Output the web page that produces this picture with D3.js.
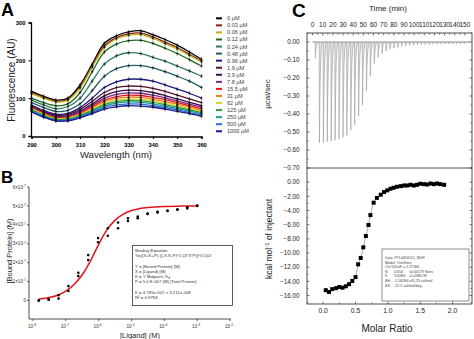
<!DOCTYPE html>
<html><head><meta charset="utf-8">
<script src="https://cdn.jsdelivr.net/npm/d3@7"></script>
<style>body{margin:0;background:#fff} svg{display:block} text{font-family:"Liberation Sans",Arial,sans-serif}</style>
</head><body><svg id="c" width="474" height="339"></svg>
<script>
// ---------- Panel A data ----------
const wavelengths = [290,295,300,305,310,315,320,325,330,335,340,345,350,355,360];
const concLabels = ["0 µM","0.03 µM","0.06 µM","0.12 µM","0.24 µM","0.48 µM","0.96 µM","1.9 µM","3.9 µM","7.8 µM","15.5 µM","31 µM","62 µM","125 µM","250 µM","500 µM","1000 µM"];
const concColors = ["#000000","#8b1a1a","#b5b50a","#1f6b1f","#2e7d5b","#1f5f6b","#1a1a8c","#5a0f2e","#3d0a4d","#7a2a8a","#e8141a","#f07a1a","#d8d82a","#2a9a3a","#1a9a9a","#2a6ad8","#1a1a9a"];
const fl0000 = [118,105,95,100,135,190,245,265,275,278,268,255,240,222,203];
const fl0003 = [115,102,92,97,130,185,238,260,270,272,262,248,234,216,199];
const fl0006 = [112,100,90,95,127,182,234,257,266,268,258,244,230,213,196];
const fl0012 = [100,88,80,85,115,170,222,243,252,253,245,232,218,202,185];
const fl0024 = [95,82,72,78,100,145,190,212,220,218,208,198,185,172,158];
const fl0048 = [88,75,65,68,85,120,158,178,186,186,180,170,158,145,128];
const fl0096 = [82,68,58,60,75,100,128,143,150,150,145,135,124,113,100];
const fl0190 = [80,65,55,57,70,92,115,128,132,131,126,118,108,98,88];
const fl0390 = [78,63,52,54,66,85,106,117,121,120,115,107,98,89,80];
const fl0780 = [76,61,50,52,63,81,100,110,114,113,108,101,93,84,76];
const fl1550 = [75,60,48,50,60,77,95,104,108,107,102,96,88,80,72];
const fl3100 = [73,58,47,48,58,74,91,100,103,102,97,91,84,76,68];
const fl6200 = [72,57,45,47,56,71,87,95,98,97,93,87,80,72,65];
const fl125 = [70,55,44,45,54,68,83,91,94,93,89,83,76,69,62];
const fl250 = [68,53,42,43,52,65,79,87,90,89,85,79,72,66,59];
const fl500 = [66,51,41,42,50,62,75,82,85,84,80,75,69,62,56];
const fl1000 = [64,50,40,40,48,59,71,77,80,79,76,71,65,59,52];
const fluorSeries = [fl0000,fl0003,fl0006,fl0012,fl0024,fl0048,fl0096,fl0190,fl0390,fl0780,fl1550,fl3100,fl6200,fl125,fl250,fl500,fl1000];
const aXTicks = [290,300,310,320,330,340,350,360];
const aYTicks = [0,100,200,300];

// ---------- Panel B data ----------
const ligandConc = [1.5e-8,3e-8,6e-8,1.2e-7,2.4e-7,4.8e-7,9.6e-7,1.9e-6,3.9e-6,7.8e-6,1.55e-5,3.1e-5,6.2e-5,1.25e-4,2.5e-4,5e-4,1e-3];
const boundRep1 = [0.0,0.05,0.28,0.76,1.47,2.40,3.30,3.82,4.12,4.35,4.44,4.60,4.69,4.74,4.81,4.93,5.02]; // x1e-7 M
const boundRep2 = [0.0,0.05,0.10,0.50,1.29,2.14,3.08,3.42,3.82,4.20,4.35,4.57,4.65,4.74,4.81,4.87,5.00];
const fitLogX = [-7.82,-7.5,-7.25,-7.0,-6.75,-6.5,-6.25,-6.0,-5.75,-5.5,-5.25,-5.0,-4.75,-4.5,-4.0,-3.5,-3.0];
const fitBound = [0.08,0.16,0.28,0.50,0.85,1.36,2.10,2.97,3.73,4.25,4.57,4.76,4.86,4.92,4.975,4.99,5.0];
const bXTickExp = [-8,-7,-6,-5,-4,-3,-2];
const bYTicks = [0,1,2,3,4,5,6];
const bBoxLines = ["Binding Equation","Y=((X+K+P)-((-X-K-P)^2-(4*X*P))^0.5)/2","","Y = [Bound Protein] (M)","X = [Ligand] (M)","K = Y Midpoint, K","P = 5.0 E-007 (M) [Total Protein]","","K = 4.785e-007 ± 3.211e-008","R² = 0.9794"];

// ---------- Panel C data ----------
const injTimes = [2.5,6.5,10.4,14.2,18.1,21.9,25.8,29.7,33.5,37.4,41.2,45.1,48.9,52.8,56.6,60.5,64.3,68.2,72.1,75.9,79.8,83.6,87.5,91.3,95.2,99.0,102.9,106.8,110.6,114.5,118.3,122.2,126.0,129.9,133.8,137.6,141.5,145.3,149.2];
const injDepth = [-0.09,-0.56,-0.56,-0.555,-0.55,-0.545,-0.54,-0.53,-0.52,-0.49,-0.46,-0.41,-0.35,-0.27,-0.19,-0.12,-0.085,-0.065,-0.05,-0.04,-0.035,-0.03,-0.026,-0.023,-0.02,-0.018,-0.017,-0.016,-0.015,-0.014,-0.013,-0.012,-0.012,-0.011,-0.011,-0.01,-0.01,-0.01,-0.01];
const molarRatio = [0.04,0.09,0.14,0.20,0.25,0.30,0.35,0.40,0.45,0.50,0.54,0.58,0.62,0.66,0.70,0.73,0.78,0.83,0.89,0.94,0.99,1.04,1.09,1.14,1.20,1.25,1.30,1.35,1.40,1.45,1.50,1.56,1.61,1.66,1.71,1.76,1.81,1.87];
const enthalpy = [-15.25,-15.5,-15.1,-14.97,-14.8,-14.9,-14.7,-14.4,-13.95,-13.4,-11.6,-10.7,-9.2,-7.6,-6.05,-4.65,-2.9,-2.23,-1.77,-1.4,-1.16,-0.93,-0.79,-0.65,-0.56,-0.47,-0.47,-0.37,-0.47,-0.37,-0.23,-0.28,-0.33,-0.19,-0.28,-0.19,-0.28,-0.37];
const timeTicks = [0,10,20,30,40,50,60,70,80,90,100,110,120,130,140,150];
const ucalTicks = [0,-0.1,-0.2,-0.3,-0.4,-0.5,-0.6,-0.7];
const kcalTicks = [0,-2,-4,-6,-8,-10,-12,-14,-16];
const ratioTicks = [0,0.5,1.0,1.5,2.0];
const cBoxRows = [["Data: FTL0050110_NDH","",""],["Model: OneSites","",""],["Chi^2/DoF = 2.271E4","",""],["N","0.654","±0.00179 Sites"],["K","9.62E6","±1.03E5 M⁻¹"],["ΔH","-1.582E4","±65.29 cal/mol"],["ΔS","-22.2 cal/mol/deg",""]];

const svg = d3.select("#c");

// ================= Panel A =================
const xA = d3.scaleLinear().domain([290,360]).range([31.5,201.5]);
const yA = d3.scaleLinear().domain([0,300]).range([136,22.5]);
const gA = svg.append("g");
gA.append("text").attr("x",1).attr("y",16).attr("font-size",18).attr("font-weight","bold").text("A");
const lineA = d3.line().x((d,i)=>xA(wavelengths[i])).y(d=>yA(d)).curve(d3.curveCatmullRom.alpha(0.5));
fluorSeries.forEach((s,k)=>{
  gA.append("path").attr("d",lineA(s)).attr("fill","none").attr("stroke",concColors[k]).attr("stroke-width",1.3);
});
fluorSeries.forEach((s,k)=>{
  s.forEach((v,i)=>{
    const cx=xA(wavelengths[i]), cy=yA(v);
    gA.append("line").attr("x1",cx).attr("x2",cx).attr("y1",cy-2).attr("y2",cy+2).attr("stroke","#111").attr("stroke-width",0.6);
    gA.append("line").attr("x1",cx-1.2).attr("x2",cx+1.2).attr("y1",cy).attr("y2",cy).attr("stroke","#111").attr("stroke-width",0.8);
  });
});
const axAx = gA.append("g").attr("transform","translate(0,136.5)").call(d3.axisBottom(xA).tickValues(aXTicks).tickSize(2.5).tickFormat(d3.format("d")));
const axAy = gA.append("g").attr("transform","translate(31,0)").call(d3.axisLeft(yA).tickValues(aYTicks).tickSize(2.5).tickFormat(d3.format("d")));
[axAx,axAy].forEach(a=>{a.select(".domain").attr("stroke","#000").attr("stroke-width",1.3);
  a.selectAll(".tick line").attr("stroke","#000").attr("stroke-width",1);
  a.selectAll("text").attr("font-size",5.8).attr("font-weight","bold").attr("font-family","Liberation Sans, Arial, sans-serif").attr("fill","#000");});
axAx.selectAll("text").attr("dy","0.9em");
gA.append("text").attr("x",116).attr("y",157.5).attr("text-anchor","middle").attr("font-size",9.5).attr("fill","#222").text("Wavelength (nm)");
gA.append("text").attr("transform","translate(15,80) rotate(-90)").attr("text-anchor","middle").attr("font-size",10).attr("fill","#222").text("Fluorescence (AU)");
// legend
concLabels.forEach((lab,k)=>{
  const ly = 18.3 + k*7.06;
  gA.append("line").attr("x1",216).attr("x2",222).attr("y1",ly).attr("y2",ly).attr("stroke",concColors[k]).attr("stroke-width",2);
  gA.append("text").attr("x",227).attr("y",ly+2).attr("font-size",5.6).attr("fill","#444").text(lab);
});

// ================= Panel B =================
const gB = svg.append("g");
gB.append("text").attr("x",1).attr("y",182.5).attr("font-size",17).attr("font-weight","bold").text("B");
const xB = d3.scaleLog().domain([1e-8,1e-2]).range([33,230]);
const yB = d3.scaleLinear().domain([0,6]).range([300.5,187]);
// axes
gB.append("line").attr("x1",29).attr("x2",29).attr("y1",187).attr("y2",319).attr("stroke","#222").attr("stroke-width",0.8);
gB.append("line").attr("x1",29).attr("x2",231).attr("y1",319).attr("y2",319).attr("stroke","#222").attr("stroke-width",0.8);
bYTicks.forEach(t=>{
  const y=yB(t);
  gB.append("line").attr("x1",27).attr("x2",29).attr("y1",y).attr("y2",y).attr("stroke","#222").attr("stroke-width",0.7);
  const tx = gB.append("text").attr("x",26).attr("y",y+1.6).attr("text-anchor","end").attr("font-size",4.6).attr("fill","#333");
  if(t===0) tx.text("0"); else { tx.text(t+"×10"); tx.append("tspan").attr("dy",-1.8).attr("font-size",3.4).text("-7"); }
});
bXTickExp.forEach(e=>{
  const x=xB(Math.pow(10,e));
  gB.append("line").attr("x1",x).attr("x2",x).attr("y1",319).attr("y2",321).attr("stroke","#222").attr("stroke-width",0.7);
  const tx = gB.append("text").attr("x",x-1).attr("y",328).attr("text-anchor","middle").attr("font-size",4.6).attr("fill","#333").text("10");
  tx.append("tspan").attr("dy",-1.8).attr("font-size",3.4).text(String(e));
});
gB.append("text").attr("x",140).attr("y",338).attr("text-anchor","middle").attr("font-size",7.5).attr("fill","#222").text("[Ligand] (M)");
gB.append("text").attr("transform","translate(12,251) rotate(-90)").attr("text-anchor","middle").attr("font-size",7.5).attr("fill","#222").text("[Bound Protein] (M)");
// fit curve
const fitLine = d3.line().x((d,i)=>xB(Math.pow(10,fitLogX[i]))).y(d=>yB(d)).curve(d3.curveMonotoneX);
gB.append("path").attr("d",fitLine(fitBound)).attr("fill","none").attr("stroke","#e0141b").attr("stroke-width",1.5);
[boundRep1,boundRep2].forEach(rep=>{
  gB.selectAll(null).data(rep).enter().append("circle").attr("cx",(d,i)=>xB(ligandConc[i])).attr("cy",d=>yB(d)).attr("r",1.3).attr("fill","#000");
});
// text box
gB.append("rect").attr("x",132.5).attr("y",245.5).attr("width",100).attr("height",60).attr("fill","#fff").attr("stroke","#333").attr("stroke-width",0.8);
bBoxLines.forEach((l,i)=>{
  const t = gB.append("text").attr("x",135).attr("y",252+i*5.2).attr("font-size",4.3).attr("fill","#333").text(l);
  if(l==="K = Y Midpoint, K") t.append("tspan").attr("dy",1).attr("font-size",3.2).text("d");
});

// ================= Panel C =================
const gC = svg.append("g");
gC.append("text").attr("x",292).attr("y",17).attr("font-size",19).attr("font-weight","bold").text("C");
const fx0=307, fx1=472, fyTop=33, fyMid=168, fyBot=304;
const xT = d3.scaleLinear().domain([-5.5,157]).range([fx0,fx1]);
const yU = d3.scaleLinear().domain([-0.70,0.05]).range([fyMid,fyTop]);
const xM = d3.scaleLinear().domain([-0.25,2.3]).range([fx0,fx1]);
const yL = d3.scaleLinear().domain([-17.2,2.0]).range([fyBot,fyMid]);
// thermogram
const spike = d3.line().x(d=>xT(d[0])).y(d=>yU(d[1]));
let trace=[[0,0]];
injTimes.forEach((t,i)=>{const d=injDepth[i]; trace.push([t,0],[t+0.25,d],[t+0.7,d*0.55],[t+1.4,d*0.2],[t+2.4,d*0.04],[t+3.2,0]);});
trace.push([155,0]);
gC.append("path").attr("d",spike(trace)+"Z").attr("fill","#e3e3e3").attr("stroke","none");
gC.append("path").attr("d",spike(trace)).attr("fill","none").attr("stroke","#9a9a9a").attr("stroke-width",0.6);
gC.append("line").attr("x1",xT(0)).attr("x2",xT(155)).attr("y1",yU(0)).attr("y2",yU(0)).attr("stroke","#888").attr("stroke-width",0.8);
// frames
gC.append("rect").attr("x",fx0).attr("y",fyTop).attr("width",fx1-fx0).attr("height",fyBot-fyTop).attr("fill","none").attr("stroke","#222").attr("stroke-width",0.8);
gC.append("line").attr("x1",fx0).attr("x2",fx1).attr("y1",fyMid).attr("y2",fyMid).attr("stroke","#222").attr("stroke-width",0.8);
// top time ticks
for(let t=0;t<=150;t+=5){const x=xT(t);gC.append("line").attr("x1",x).attr("x2",x).attr("y1",fyTop).attr("y2",fyTop+(t%10===0?2.5:1.5)).attr("stroke","#222").attr("stroke-width",0.6);}
timeTicks.forEach(t=>{gC.append("text").attr("x",xT(t)).attr("y",27).attr("text-anchor","middle").attr("font-size",6.5).attr("fill","#222").text(t);});
gC.append("text").attr("x",388).attr("y",11).attr("text-anchor","middle").attr("font-size",8).attr("fill","#222").text("Time (min)");
// upper y ticks
ucalTicks.forEach(v=>{const y=yU(v);
  gC.append("line").attr("x1",fx0).attr("x2",fx0+2.5).attr("y1",y).attr("y2",y).attr("stroke","#222").attr("stroke-width",0.6);
  gC.append("line").attr("x1",fx1-2.5).attr("x2",fx1).attr("y1",y).attr("y2",y).attr("stroke","#222").attr("stroke-width",0.6);
  const ym=yU(v+0.05); gC.append("line").attr("x1",fx0).attr("x2",fx0+1.5).attr("y1",ym).attr("y2",ym).attr("stroke","#222").attr("stroke-width",0.5);
  gC.append("line").attr("x1",fx1-1.5).attr("x2",fx1).attr("y1",ym).attr("y2",ym).attr("stroke","#222").attr("stroke-width",0.5);
  gC.append("text").attr("x",299.5).attr("y",y+2.2).attr("text-anchor","end").attr("font-size",6.3).attr("fill","#222").text(d3.format(".2f")(v));
});
gC.append("text").attr("transform","translate(270,94) rotate(-90)").attr("text-anchor","middle").attr("font-size",8).attr("fill","#222").text("µcal/sec");
// lower
kcalTicks.forEach(v=>{const y=yL(v);
  gC.append("line").attr("x1",fx0).attr("x2",fx0+2.5).attr("y1",y).attr("y2",y).attr("stroke","#222").attr("stroke-width",0.6);
  gC.append("line").attr("x1",fx1-2.5).attr("x2",fx1).attr("y1",y).attr("y2",y).attr("stroke","#222").attr("stroke-width",0.6);
  const ym=yL(v-1); gC.append("line").attr("x1",fx0).attr("x2",fx0+1.5).attr("y1",ym).attr("y2",ym).attr("stroke","#222").attr("stroke-width",0.5);
  gC.append("line").attr("x1",fx1-1.5).attr("x2",fx1).attr("y1",ym).attr("y2",ym).attr("stroke","#222").attr("stroke-width",0.5);
  gC.append("text").attr("x",299.5).attr("y",y+2.2).attr("text-anchor","end").attr("font-size",6.3).attr("fill","#222").text(d3.format(".2f")(v));
});
ratioTicks.forEach(v=>{const x=xM(v);
  gC.append("line").attr("x1",x).attr("x2",x).attr("y1",fyBot).attr("y2",fyBot-2.5).attr("stroke","#222").attr("stroke-width",0.6);
  const xm=xM(v+0.25); if(v<2.0) gC.append("line").attr("x1",xm).attr("x2",xm).attr("y1",fyBot).attr("y2",fyBot-1.5).attr("stroke","#222").attr("stroke-width",0.5);
  gC.append("text").attr("x",x).attr("y",313).attr("text-anchor","middle").attr("font-size",6.8).attr("fill","#222").text(d3.format(".1f")(v));
});
gC.append("text").attr("x",387).attr("y",332).attr("text-anchor","middle").attr("font-size",10).attr("fill","#222").text("Molar Ratio");
const kl = gC.append("text").attr("transform","translate(272,239) rotate(-90)").attr("text-anchor","middle").attr("font-size",8.5).attr("fill","#222");
kl.append("tspan").text("kcal mol");
kl.append("tspan").attr("dy",-3).attr("font-size",6).text("-1");
kl.append("tspan").attr("dy",3).text(" of injectant");
// fit line and squares
const isoLine = d3.line().x((d,i)=>xM(molarRatio[i])).y(d=>yL(d)).curve(d3.curveMonotoneX);
gC.append("path").attr("d",isoLine(enthalpy)).attr("fill","none").attr("stroke","#555").attr("stroke-width",0.5);
gC.selectAll(null).data(enthalpy).enter().append("rect").attr("x",(d,i)=>xM(molarRatio[i])-2).attr("y",d=>yL(d)-2).attr("width",4).attr("height",4).attr("fill","#000");
// result box
gC.append("rect").attr("x",382).attr("y",249).attr("width",87).attr("height",52).attr("fill","#fff").attr("stroke","#444").attr("stroke-width",0.6);
cBoxRows.forEach((r,i)=>{
  const y=259+i*4.6;
  gC.append("text").attr("x",385).attr("y",y).attr("font-size",3.6).attr("fill","#444").text(r[0]);
  if(r[1]) gC.append("text").attr("x",394).attr("y",y).attr("font-size",3.6).attr("fill","#444").text(r[1]);
  if(r[2]) gC.append("text").attr("x",409).attr("y",y).attr("font-size",3.6).attr("fill","#444").text(r[2]);
});
</script></body></html>
